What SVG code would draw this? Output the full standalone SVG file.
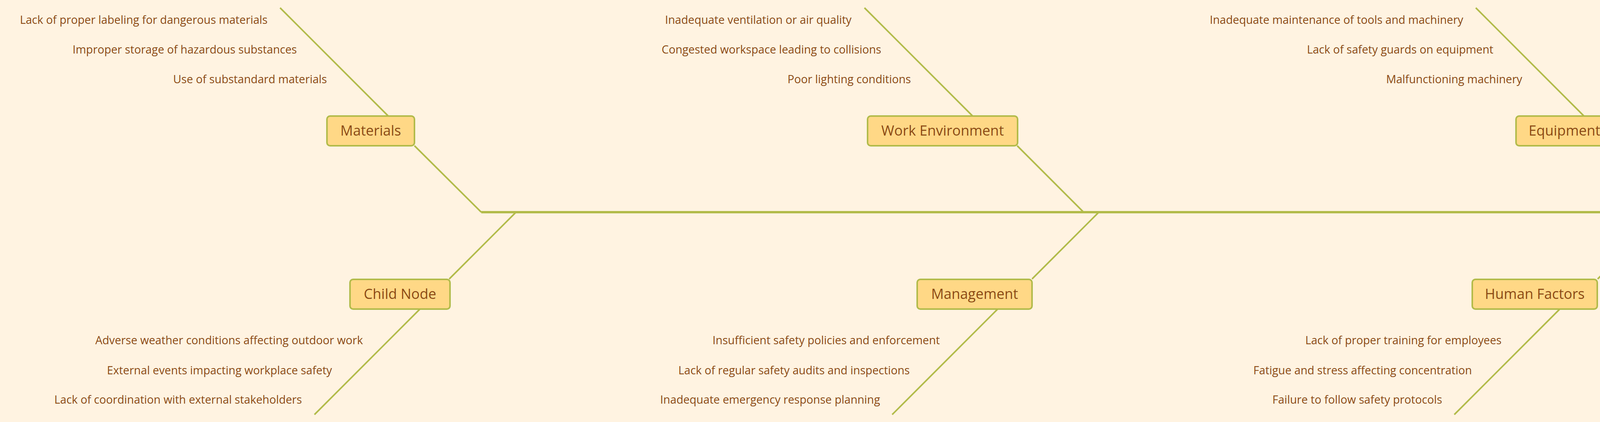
<svg xmlns="http://www.w3.org/2000/svg" width="5586" height="1080" viewBox="0 0 5586 1080">
<style>
.bg{fill:#FFF3E1}
.bone{stroke:#B2BB4A;stroke-width:4;fill:none;stroke-linecap:butt}
.spine{stroke:#B2BB4A;stroke-width:6;fill:none}
.box{fill:#FFD886;stroke:#B2BB4A;stroke-width:4}
.lbl{font-family:"Open Sans","Noto Sans","Liberation Sans",sans-serif;font-size:36px;fill:#8B4A14;text-anchor:middle}
.leaf{font-family:"Open Sans","Noto Sans","Liberation Sans",sans-serif;font-size:28.7px;fill:#8B4A14;text-anchor:end}
.root{fill:#E68214}
.rootTxt{font-family:"Open Sans","Noto Sans","Liberation Sans",sans-serif;font-size:48.6px;font-weight:bold;fill:#FFFFFF;text-anchor:middle}
</style>
<rect class="bg" x="0" y="0" width="5586" height="1080"/>
<g id="connectors">
<line class="spine" x1="1232" y1="543" x2="4506" y2="543"/>
<line class="bone" x1="1232" y1="543" x2="1061" y2="373"/>
<line class="bone" x1="994" y1="297" x2="717" y2="20"/>
<line class="bone" x1="2774" y1="543" x2="2604" y2="373"/>
<line class="bone" x1="2490" y1="297" x2="2213" y2="20"/>
<line class="bone" x1="4299" y1="543" x2="4129" y2="373"/>
<line class="bone" x1="4055" y1="297" x2="3778" y2="20"/>
<line class="bone" x1="1321" y1="543" x2="1150" y2="714"/>
<line class="bone" x1="1075" y1="791" x2="805" y2="1061"/>
<line class="bone" x1="2813" y1="543" x2="2642" y2="714"/>
<line class="bone" x1="2554" y1="791" x2="2284" y2="1061"/>
<line class="bone" x1="4261" y1="543" x2="4090" y2="714"/>
<line class="bone" x1="3993" y1="791" x2="3723" y2="1061"/>
</g>
<g id="root">
<rect class="root" x="4504" y="462" width="1062" height="164" rx="9"/>
<text class="rootTxt" x="5035" y="522">Fishbone (Ishikawa) Diagram of</text>
<text class="rootTxt" x="5035" y="583">Workplace Accidents</text>
</g>
<g id="materials">
<rect class="box" x="837" y="297" width="224" height="76" rx="8"/>
<text class="lbl" x="949" y="347">Materials</text>
<text class="leaf" x="685" y="61">Lack of proper labeling for dangerous materials</text>
<text class="leaf" x="760" y="137">Improper storage of hazardous substances</text>
<text class="leaf" x="837" y="213">Use of substandard materials</text>
</g>
<g id="work-environment">
<rect class="box" x="2221" y="297" width="384" height="76" rx="8"/>
<text class="lbl" x="2413" y="347">Work Environment</text>
<text class="leaf" x="2180" y="61">Inadequate ventilation or air quality</text>
<text class="leaf" x="2256" y="137">Congested workspace leading to collisions</text>
<text class="leaf" x="2332" y="213">Poor lighting conditions</text>
</g>
<g id="equipment">
<rect class="box" x="3881" y="297" width="249" height="76" rx="8"/>
<text class="lbl" x="4005" y="347">Equipment</text>
<text class="leaf" x="3746" y="61">Inadequate maintenance of tools and machinery</text>
<text class="leaf" x="3823" y="137">Lack of safety guards on equipment</text>
<text class="leaf" x="3897" y="213">Malfunctioning machinery</text>
</g>
<g id="child-node">
<rect class="box" x="896" y="715" width="256" height="76" rx="8"/>
<text class="lbl" x="1024" y="765">Child Node</text>
<text class="leaf" x="929" y="881">Adverse weather conditions affecting outdoor work</text>
<text class="leaf" x="850" y="958">External events impacting workplace safety</text>
<text class="leaf" x="773" y="1033">Lack of coordination with external stakeholders</text>
</g>
<g id="management">
<rect class="box" x="2348" y="715" width="294" height="76" rx="8"/>
<text class="lbl" x="2495" y="765">Management</text>
<text class="leaf" x="2406" y="881">Insufficient safety policies and enforcement</text>
<text class="leaf" x="2329" y="958">Lack of regular safety audits and inspections</text>
<text class="leaf" x="2253" y="1033">Inadequate emergency response planning</text>
</g>
<g id="human-factors">
<rect class="box" x="3769" y="715" width="320" height="76" rx="8"/>
<text class="lbl" x="3929" y="765">Human Factors</text>
<text class="leaf" x="3844" y="881">Lack of proper training for employees</text>
<text class="leaf" x="3768" y="958">Fatigue and stress affecting concentration</text>
<text class="leaf" x="3692" y="1033">Failure to follow safety protocols</text>
</g>
</svg>
